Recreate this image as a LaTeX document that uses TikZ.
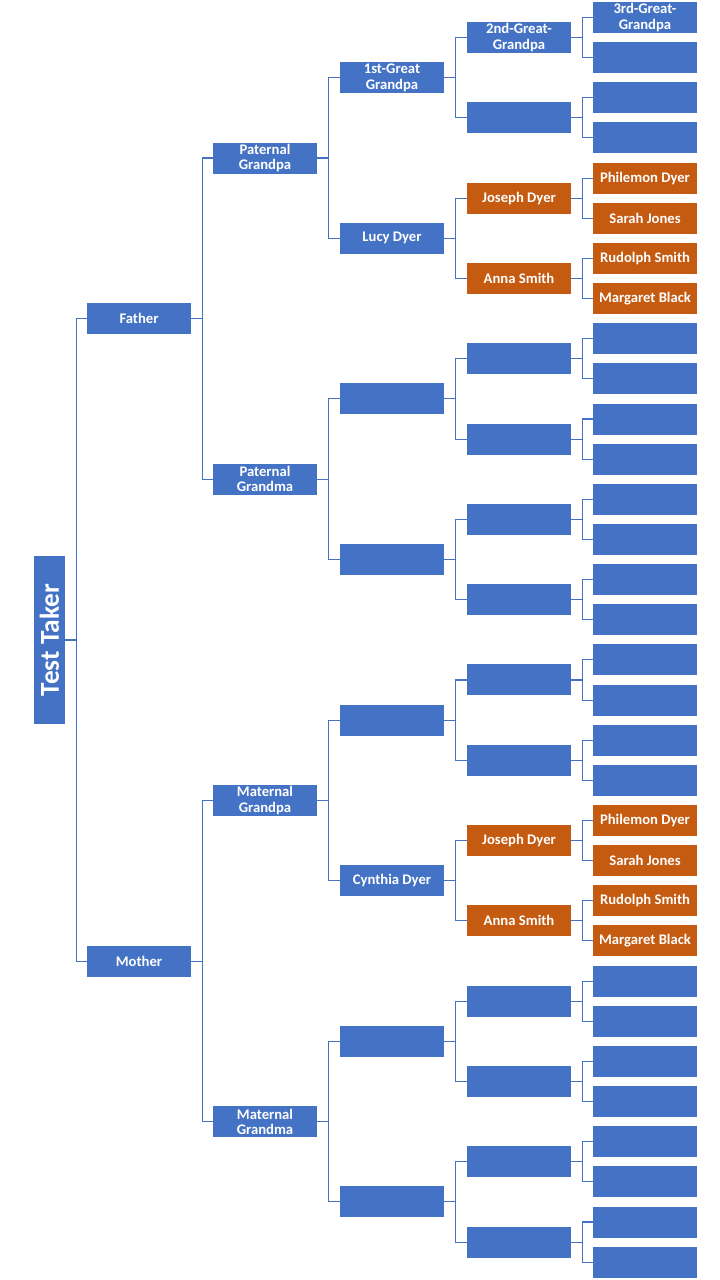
\documentclass[tikz,border=0pt]{standalone}
\usepackage{fontspec}
\setmainfont{Carlito}
\definecolor{CajaAzul}{HTML}{4472C4}
\definecolor{CajaNaranja}{HTML}{C55A11}

\begin{document}
\begin{tikzpicture}[
    x=0.75pt, y=-0.75pt,
    font=\bfseries\fontsize{11}{11.5}\selectfont,
    azul/.style={fill=CajaAzul, text=white, align=center,
        minimum width=78pt, minimum height=23.25pt, inner sep=0.5pt},
    naranja/.style={azul, fill=CajaNaranja},
    raiz/.style={fill=CajaAzul, text=white, minimum width=23.25pt,
        minimum height=126pt, inner sep=0pt,
        font=\bfseries\fontsize{20.5}{22}\selectfont},
    linea/.style={draw=CajaAzul, line width=0.8pt},
]

\useasboundingbox (0,0) rectangle (720,1280);

% Nodo raíz (texto girado)
\node[raiz] (n0-0) at (49.5,640) {\rotatebox{90}{Test Taker}};

% Nivel 1: padres
\foreach \s/\txt [count=\i] in {azul/Father, azul/Mother}{
    \pgfmathtruncatemacro{\k}{\i-1}
    \pgfmathtruncatemacro{\p}{\k/2}
    \pgfmathsetmacro{\y}{17.5+40.15*(16*\k+7.5)}
    \node[\s] (n1-\k) at (139,\y) {\txt};
    \draw[linea] (n0-\p.east) -- ++(11,0) |- (n1-\k.west);
}

% Nivel 2: abuelos
\foreach \s/\txt [count=\i] in {%
    azul/{Paternal\\Grandpa}, azul/{Paternal\\Grandma},
    azul/{Maternal\\Grandpa}, azul/{Maternal\\Grandma}%
}{
    \pgfmathtruncatemacro{\k}{\i-1}
    \pgfmathtruncatemacro{\p}{\k/2}
    \pgfmathsetmacro{\y}{17.5+40.15*(8*\k+3.5)}
    \node[\s] (n2-\k) at (265,\y) {\txt};
    \draw[linea] (n1-\p.east) -- ++(11,0) |- (n2-\k.west);
}

% Nivel 3: bisabuelos
\foreach \s/\txt [count=\i] in {%
    azul/{1st-Great\\Grandpa}, azul/Lucy Dyer, azul/{}, azul/{},
    azul/{}, azul/Cynthia Dyer, azul/{}, azul/{}%
}{
    \pgfmathtruncatemacro{\k}{\i-1}
    \pgfmathtruncatemacro{\p}{\k/2}
    \pgfmathsetmacro{\y}{17.5+40.15*(4*\k+1.5)}
    \node[\s] (n3-\k) at (392,\y) {\txt};
    \draw[linea] (n2-\p.east) -- ++(11,0) |- (n3-\k.west);
}

% Nivel 4
\foreach \s/\txt [count=\i] in {%
    azul/{2nd-Great-\\Grandpa}, azul/{}, naranja/Joseph Dyer, naranja/Anna Smith,
    azul/{}, azul/{}, azul/{}, azul/{},
    azul/{}, azul/{}, naranja/Joseph Dyer, naranja/Anna Smith,
    azul/{}, azul/{}, azul/{}, azul/{}%
}{
    \pgfmathtruncatemacro{\k}{\i-1}
    \pgfmathtruncatemacro{\p}{\k/2}
    \pgfmathsetmacro{\y}{17.5+40.15*(2*\k+0.5)}
    \node[\s] (n4-\k) at (519,\y) {\txt};
    \draw[linea] (n3-\p.east) -- ++(11.5,0) |- (n4-\k.west);
}

% Nivel 5: hojas
\foreach \s/\txt [count=\i] in {%
    azul/{3rd-Great-\\Grandpa}, azul/{}, azul/{}, azul/{},
    naranja/Philemon Dyer, naranja/Sarah Jones, naranja/Rudolph Smith, naranja/Margaret Black,
    azul/{}, azul/{}, azul/{}, azul/{}, azul/{}, azul/{}, azul/{}, azul/{},
    azul/{}, azul/{}, azul/{}, azul/{},
    naranja/Philemon Dyer, naranja/Sarah Jones, naranja/Rudolph Smith, naranja/Margaret Black,
    azul/{}, azul/{}, azul/{}, azul/{}, azul/{}, azul/{}, azul/{}, azul/{}%
}{
    \pgfmathtruncatemacro{\k}{\i-1}
    \pgfmathtruncatemacro{\p}{\k/2}
    \pgfmathsetmacro{\y}{17.5+40.15*\k}
    \node[\s] (n5-\k) at (645,\y) {\txt};
    \draw[linea] (n4-\p.east) -- ++(11,0) |- (n5-\k.west);
}

\end{tikzpicture}
\end{document}
